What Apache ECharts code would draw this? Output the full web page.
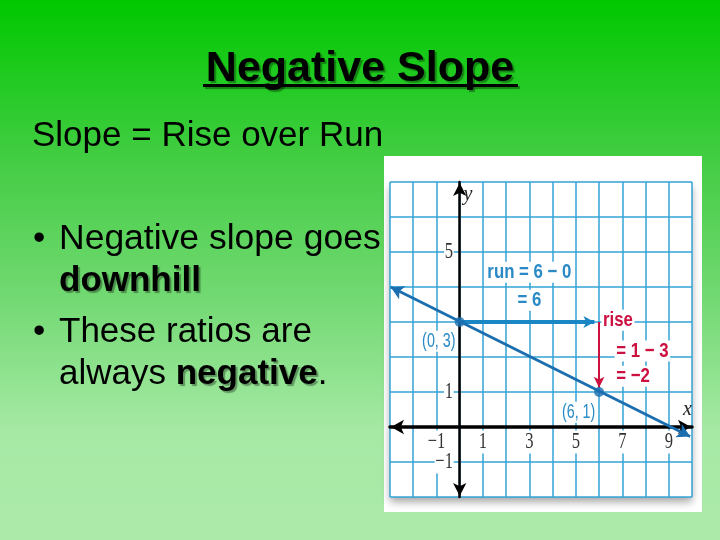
<!DOCTYPE html>
<html><head><meta charset="utf-8">
<script src="https://cdn.jsdelivr.net/npm/echarts@6/dist/echarts.min.js"></script>
<style>html,body{margin:0;padding:0;background:#fff;}#c{width:720px;height:540px;}</style>
</head><body><div id="c"></div>
<script>
// ---- data ----
const xRange = [-3, 10];
const yRange = [-2, 7];
const xTickValues = [-1, 1, 3, 5, 7, 9];
const xTickLabels = ['−1', '1', '3', '5', '7', '9'];
const yTickValues = [5, 1, -1];
const yTickLabels = ['5', '1', '−1'];
const slopeLine = [[-2.97, 4.0], [9.92, -0.27]];
const keyPoints = [[0, 3], [6, 1]];
const keyPointLabels = ['(0, 3)', '(6, 1)'];
const keyPointLabelPos = [[-0.9, 2.45], [5.12, 0.42]];
const runArrow = [[0, 3], [5.8, 3]];
const riseArrow = [[6, 3], [6, 1.12]];
const runTexts = ['run = 6 − 0', '= 6'];
const runTextPos = [[3.0, 4.42], [3.0, 3.62]];
const riseTexts = ['rise', '= 1 − 3', '= −2'];
const riseTextPos = [[6.1, 3.05], [6.67, 2.17], [6.67, 1.45]];
const axisNames = ['x', 'y'];
const axisNamePos = [[9.8, 0.5], [0.35, 6.64]];

const BLUE_LINE = '#1b6fb0';
const BLUE_TEXT = '#2a8ac6';
const RED = '#cc1040';
const SANS = '"Liberation Sans", Arial, sans-serif';
const SERIF = '"Liberation Serif", "Times New Roman", serif';

const chart = echarts.init(document.getElementById('c'), null, {renderer: 'canvas'});

// text annotations drawn through the cartesian scale (api.coord)
function textSeries(name, texts, positions, st) {
  return {
    type: 'custom', name: name, data: positions, z: 3, silent: true,
    renderItem: function (params, api) {
      const p = api.coord([api.value(0), api.value(1)]);
      return {
        type: 'text', x: p[0] + (st.dx || 0), y: p[1] + (st.dy || 0),
        scaleX: st.sx || 1, scaleY: 1,
        style: {
          text: texts[params.dataIndex], font: st.font, fill: st.color,
          align: st.align || 'center', verticalAlign: 'middle',
          backgroundColor: st.bg, padding: st.pad
        }
      };
    }
  };
}

const option = {
  animation: false,
  backgroundColor: {
    type: 'linear', x: 0, y: 0, x2: 0, y2: 1,
    colorStops: [
      {offset: 0, color: '#00c800'},
      {offset: 0.3, color: '#44cd44'},
      {offset: 0.55, color: '#72d972'},
      {offset: 0.8, color: '#a6e9a5'},
      {offset: 1, color: '#aceaa9'}
    ]
  },
  graphic: {
    elements: [
      {type: 'rect', z: -10, shape: {x: 384, y: 156, width: 318, height: 356}, style: {fill: '#ffffff'}},
      {type: 'text', x: 360, y: 69, style: {
        text: 'Negative Slope', font: 'bold 43px ' + SANS, fill: '#000',
        textAlign: 'center', textVerticalAlign: 'middle', align: 'center', verticalAlign: 'middle',
        textShadowColor: 'rgba(0,0,0,0.35)', textShadowOffsetX: 2, textShadowOffsetY: 2, textShadowBlur: 1}},
      {type: 'rect', shape: {x: 203, y: 84, width: 315, height: 3}, style: {
        fill: '#000', shadowColor: 'rgba(0,0,0,0.35)', shadowOffsetX: 2, shadowOffsetY: 2, shadowBlur: 1}},
      {type: 'text', x: 32, y: 136, style: {
        text: 'Slope = Rise over Run', font: '35px ' + SANS, fill: '#000',
        textVerticalAlign: 'middle', verticalAlign: 'middle'}},
      {type: 'text', x: 33, y: 239, style: {text: '•', font: '35px ' + SANS, fill: '#000', textVerticalAlign: 'middle', verticalAlign: 'middle'}},
      {type: 'text', x: 59, y: 239, style: {text: 'Negative slope goes', font: '35.5px ' + SANS, fill: '#000', textVerticalAlign: 'middle', verticalAlign: 'middle'}},
      {type: 'text', x: 59, y: 281, style: {
        text: 'downhill', font: 'bold 35px ' + SANS, fill: '#000', textVerticalAlign: 'middle', verticalAlign: 'middle',
        textShadowColor: 'rgba(0,0,0,0.35)', textShadowOffsetX: 2, textShadowOffsetY: 2, textShadowBlur: 1}},
      {type: 'text', x: 33, y: 332, style: {text: '•', font: '35px ' + SANS, fill: '#000', textVerticalAlign: 'middle', verticalAlign: 'middle'}},
      {type: 'text', x: 59, y: 332, style: {text: 'These ratios are', font: '35px ' + SANS, fill: '#000', textVerticalAlign: 'middle', verticalAlign: 'middle'}},
      {type: 'text', x: 59, y: 374, style: {
        text: 'always {b|negative}.', font: '35px ' + SANS, fill: '#000', textVerticalAlign: 'middle', verticalAlign: 'middle',
        rich: {b: {fontFamily: SANS, fontSize: 35, fontWeight: 'bold', color: '#000',
          textShadowColor: 'rgba(0,0,0,0.35)', textShadowOffsetX: 2, textShadowOffsetY: 2, textShadowBlur: 1}}}}
    ]
  },
  grid: {
    left: 390, top: 182, width: 302, height: 315,
    show: true, backgroundColor: '#ffffff', borderWidth: 0,
    shadowBlur: 8, shadowColor: 'rgba(0,0,0,0.35)', shadowOffsetY: 5
  },
  xAxis: {
    type: 'value', min: xRange[0], max: xRange[1], interval: 1,
    axisLine: {show: true, onZero: true, lineStyle: {color: '#000', width: 3.5},
      symbol: ['arrow', 'arrow'], symbolSize: [11, 13], symbolOffset: [1, -1]},
    axisTick: {show: false},
    axisLabel: {show: false},
    splitLine: {show: true, showMinLine: true, showMaxLine: true, lineStyle: {color: '#33a3d5', width: 1.5}}
  },
  yAxis: {
    type: 'value', min: yRange[0], max: yRange[1], interval: 1,
    axisLine: {show: true, onZero: true, lineStyle: {color: '#000', width: 2.5},
      symbol: ['arrow', 'arrow'], symbolSize: [10, 13], symbolOffset: [1, -1]},
    axisTick: {show: false},
    axisLabel: {show: false},
    splitLine: {show: true, showMinLine: true, showMaxLine: true, lineStyle: {color: '#33a3d5', width: 1.5}}
  },
  series: [
    {
      type: 'scatter', name: 'run', data: [], z: 3, silent: true,
      markLine: {silent: true, symbol: ['none', 'arrow'], symbolSize: [9, 11], label: {show: false},
        lineStyle: {color: '#1a86c4', width: 4, type: 'solid'},
        data: [[{coord: runArrow[0]}, {coord: runArrow[1]}]]}
    },
    {
      type: 'scatter', name: 'rise', data: [], z: 3, silent: true,
      markLine: {silent: true, symbol: ['none', 'arrow'], symbolSize: [8, 11], label: {show: false},
        lineStyle: {color: RED, width: 2, type: 'solid'},
        data: [[{coord: riseArrow[0]}, {coord: riseArrow[1]}]]}
    },
    {
      type: 'scatter', name: 'line', data: [], z: 4, silent: true,
      markLine: {silent: true, symbol: ['arrow', 'arrow'], symbolSize: [11, 13], label: {show: false},
        lineStyle: {color: BLUE_LINE, width: 2.8, type: 'solid'},
        data: [[{coord: slopeLine[0]}, {coord: slopeLine[1]}]]}
    },
    {
      type: 'scatter', name: 'points', data: keyPoints, z: 5, symbolSize: 10,
      itemStyle: {color: BLUE_LINE}
    },
    textSeries('xTicks', xTickLabels, xTickValues.map(v => [v, 0]),
      {dy: 15, font: '23px ' + SERIF, color: '#333', sx: 0.72, bg: '#fff', pad: [0, 1]}),
    textSeries('yTicks', yTickLabels, yTickValues.map(v => [0, v]),
      {dx: -6, align: 'right', font: '23px ' + SERIF, color: '#333', sx: 0.72, bg: '#fff', pad: [0, 1]}),
    textSeries('pointLabels', keyPointLabels, keyPointLabelPos,
      {font: '21px ' + SANS, color: BLUE_TEXT, sx: 0.68, bg: '#fff', pad: [0, 1]}),
    textSeries('runLabels', runTexts, runTextPos,
      {font: 'bold 21px ' + SANS, color: BLUE_TEXT, sx: 0.8, bg: '#fff', pad: [0, 2]}),
    textSeries('riseLabels', riseTexts, riseTextPos,
      {align: 'left', font: 'bold 21px ' + SANS, color: RED, sx: 0.8, bg: '#fff', pad: [0, 2]}),
    textSeries('axisNames', axisNames, axisNamePos,
      {font: 'italic 20px ' + SERIF, color: '#222'})
  ]
};
chart.setOption(option);
</script>
</body></html>
